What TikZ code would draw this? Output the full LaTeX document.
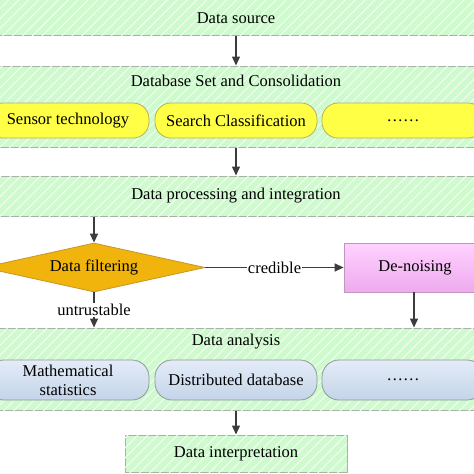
\documentclass[tikz,border=0pt]{standalone}
\usepackage{fontspec}
\setmainfont{Liberation Serif}
\usetikzlibrary{shapes.geometric,patterns.meta,arrows.meta}
\definecolor{bandgreen}{RGB}{206,250,206}
\definecolor{bandline}{RGB}{165,180,165}
\definecolor{pillyellow}{RGB}{255,255,70}
\definecolor{pillyline}{RGB}{185,175,90}
\definecolor{diaorange}{RGB}{240,180,12}
\definecolor{dialine}{RGB}{200,150,40}
\definecolor{pinktop}{RGB}{255,210,255}
\definecolor{pinkbot}{RGB}{238,170,238}
\definecolor{pinkline}{RGB}{190,150,190}
\definecolor{bluetop}{RGB}{228,236,248}
\definecolor{bluebot}{RGB}{196,212,232}
\definecolor{blueline}{RGB}{140,155,150}
\definecolor{arrgray}{RGB}{60,60,60}
\tikzset{
  band/.style={rectangle, draw=bandline, line width=1pt, fill=bandgreen,
    postaction={pattern={Lines[angle=45,distance=7pt,line width=0.9pt]}, pattern color=white!85!bandgreen},
    inner sep=0pt},
  title/.style={inner sep=1pt, font=\fontsize{16.5}{19}\selectfont},
  ypill/.style={rectangle, rounded corners=16pt, draw=pillyline, line width=0.8pt, fill=pillyellow,
    minimum width=162pt, minimum height=35pt, inner sep=0pt, font=\fontsize{16.5}{19}\selectfont},
  bpill/.style={rectangle, rounded corners=17pt, draw=blueline, line width=0.8pt, top color=bluetop, bottom color=bluebot,
    minimum width=162pt, minimum height=40pt, inner sep=0pt, align=center, font=\fontsize{16.5}{19}\selectfont},
  arr/.style={draw=arrgray, line width=1.4pt, -{Triangle[length=9pt,width=8pt]}},
  lbl/.style={fill=white, inner sep=1pt, font=\fontsize{16.5}{19}\selectfont},
}
\begin{document}
\begin{tikzpicture}[x=1pt,y=-1pt]
\useasboundingbox (0,0) rectangle (474,474);
\clip (0,0) rectangle (474,474);
% bands
\node[band, minimum width=480pt, minimum height=38pt] (src) at (237,16) {};
\node[title] (srct) at (236,18) {Data source};
\node[band, minimum width=480pt, minimum height=81pt] (db) at (237,106.5) {};
\node[title] (dbt) at (236,81) {Database Set and Consolidation};
\node[ypill] (p1) at (68,120.5) {Sensor technology};
\node[ypill] (p2) at (236,120.5) {Search Classification};
\node[ypill] (p3) at (403,120.5) {……};
\node[band, minimum width=480pt, minimum height=40pt] (proc) at (237,196) {};
\node[title] (proct) at (236,196) {Data processing and integration};
% diamond
\node[diamond, aspect=4.5, draw=dialine, line width=0.8pt, fill=diaorange, inner sep=0pt,
      minimum width=222pt, minimum height=49pt, font=\fontsize{16.5}{19}\selectfont] (filt) at (94,267.5) {Data filtering};
\node[rectangle, draw=pinkline, line width=0.8pt, top color=pinktop, bottom color=pinkbot,
      minimum width=142pt, minimum height=49pt, inner sep=0pt, font=\fontsize{16.5}{19}\selectfont] (den) at (415,267.5) {De-noising};
% analysis band
\node[band, minimum width=480pt, minimum height=82pt] (ana) at (237,369) {};
\node[title] (anat) at (236,342) {Data analysis};
\node[bpill] (b1) at (68,380) {Mathematical\\statistics};
\node[bpill] (b2) at (236,380) {Distributed database};
\node[bpill] (b3) at (403,380) {……};
\node[band, minimum width=222pt, minimum height=37pt] (interp) at (236,453.5) {};
\node[title] (interpt) at (236,454) {Data interpretation};
% connectors
\draw[arr] (src.south -| srct.center) -- (db.north -| srct.center);
\draw[arr] (db.south -| srct.center) -- (proc.north -| srct.center);
\draw[arr] (proc.south -| filt.north) -- (filt.north);
\draw[arr] (filt.east) -- node[lbl] {credible} (den.west);
\draw[arr] (filt.south) -- node[lbl] {untrustable} (ana.north -| filt.south);
\draw[arr] (den.south -| 414,0) -- (ana.north -| 414,0);
\draw[arr] (ana.south -| interp.north) -- (interp.north);
\end{tikzpicture}
\end{document}
